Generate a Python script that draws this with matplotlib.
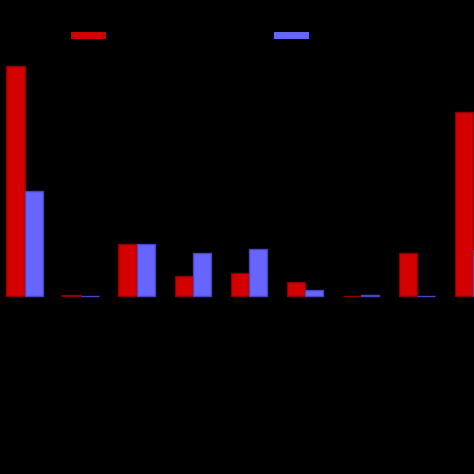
import matplotlib
matplotlib.use("Agg")
import matplotlib.pyplot as plt
import numpy as np

categories = ["A", "B", "C", "D", "E", "F", "G", "H", "I"]
series_a = [100, 0.5, 22.6, 8.7, 10, 6, 0, 18.7, 80]
series_b = [45.7, 0, 22.6, 18.7, 20.4, 2.6, 0.4, 0, 20]

fig = plt.figure(figsize=(4.74, 4.74), dpi=100, facecolor="black")
ax = fig.add_axes([0, 0, 1, 1], facecolor="black")
x = np.arange(len(categories))
w = 0.33
ax.bar(x - w / 2, series_a, w, color="#d40000", edgecolor="#8a0000", linewidth=1, label="Series A")
ax.bar(x + w / 2, series_b, w, color="#6666ff", edgecolor="#4444cc", linewidth=1, label="Series B")
ax.set_xlim(-0.446, 8.018)
ax.set_ylim(-77.4, 128.7)
for s in ax.spines.values():
    s.set_visible(False)
ax.set_xticks([])
ax.set_yticks([])
# legend keys
ax.plot([74 / 474, 102 / 474], [1 - 35 / 474] * 2, color="#d40000", lw=5, transform=ax.transAxes)
ax.plot([277 / 474, 305 / 474], [1 - 35 / 474] * 2, color="#6666ff", lw=5, transform=ax.transAxes)
ax.text(108 / 474, 1 - 35 / 474, "Series A", color="black", va="center", transform=ax.transAxes)
ax.text(311 / 474, 1 - 35 / 474, "Series B", color="black", va="center", transform=ax.transAxes)
fig.savefig("out.png", facecolor="black")
